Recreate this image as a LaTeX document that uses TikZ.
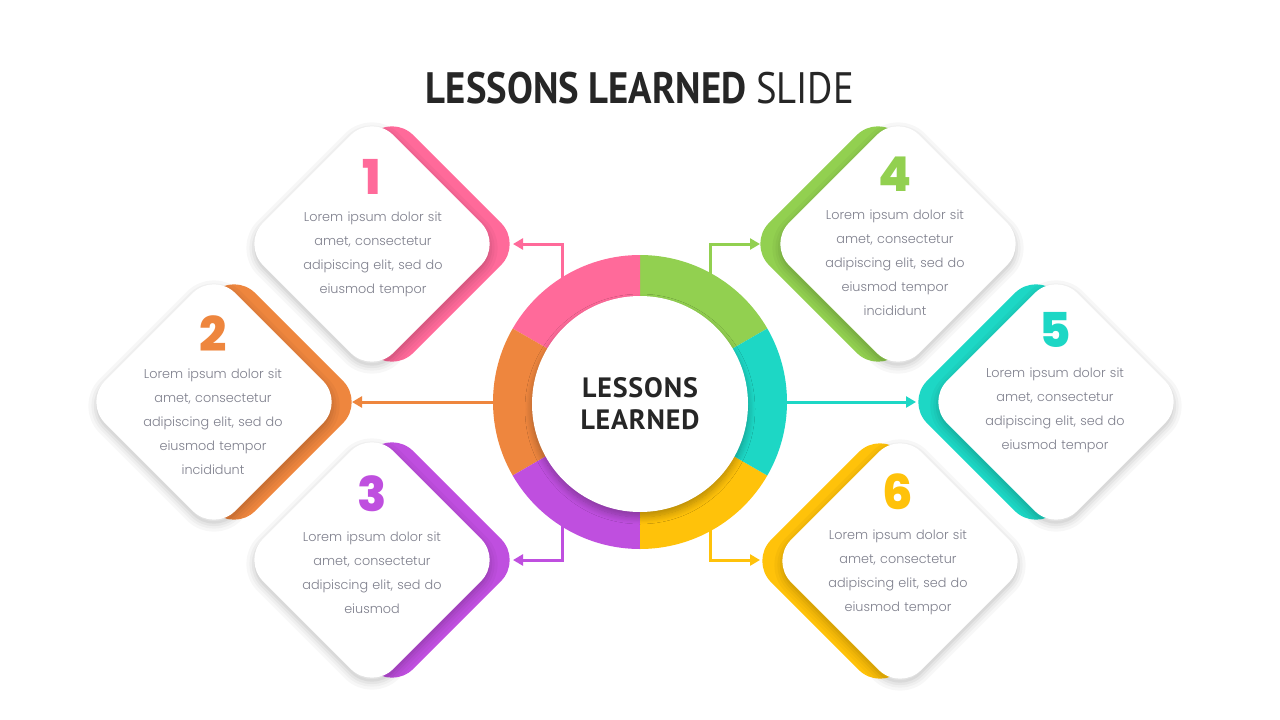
\documentclass[tikz,border=0pt]{standalone}
\usepackage{fontspec}
\IfFontExistsTF{Poppins Light}{\setmainfont{Poppins Light}}{\setmainfont{Poppins}}
\IfFontExistsTF{Poppins ExtraBold}{\newfontfamily\numfont{Poppins ExtraBold}}{\newfontfamily\numfont{Poppins}[UprightFont=*-Bold]}
\newfontfamily\headfont{PT Sans}[FakeStretch=0.88]
\newfontfamily\hubfont{PT Sans}[LetterSpace=3]
\usetikzlibrary{arrows.meta,shadows.blur}

\definecolor{lpink}{HTML}{FF6A9A}
\definecolor{lorange}{HTML}{EE863E}
\definecolor{lpurple}{HTML}{BF4FDF}
\definecolor{lgreen}{HTML}{92D050}
\definecolor{lteal}{HTML}{1DD7C5}
\definecolor{lyellow}{HTML}{FFC20A}
\definecolor{lgrey}{HTML}{7E7F8C}
\definecolor{ink}{HTML}{262626}

\tikzset{
  backcard/.style={rectangle, fill=#1, rounded corners=30pt, minimum size=184pt, inner sep=0pt, rotate=45},
  card/.style={rectangle, fill=white, rounded corners=30pt, minimum size=184pt, inner sep=0pt, rotate=45,
    preaction={draw=black, draw opacity=0.03, line width=16pt, transform canvas={yshift=-4pt}},
    preaction={draw=black, draw opacity=0.03, line width=10pt, transform canvas={yshift=-4pt}},
    preaction={draw=black, draw opacity=0.04, line width=5pt, transform canvas={yshift=-4pt}},
    preaction={fill=black, fill opacity=0.05, transform canvas={yshift=-4pt}}},
  num/.style={font=\numfont\fontsize{48}{48}\selectfont, text=#1},
  body/.style={font=\fontsize{12.8}{24}\selectfont, text=lgrey, align=center, text width=180pt},
  link/.style={line width=3pt, -{Triangle[length=10pt,width=11pt]}},
}

\begin{document}
\begin{tikzpicture}[x=1pt, y=-1pt]
  \useasboundingbox (0,0) rectangle (1280,720);
  \fill[white] (0,0) rectangle (1280,720);

  \node[font=\headfont\fontsize{44}{44}\selectfont, text=ink] (title) at (640,88) {\bfseries LESSONS LEARNED \mdseries SLIDE};

  % coloured backs
  \node[backcard=lpink] (b1) at (392,244) {};
  \node[backcard=lorange] (b2) at (234,402) {};
  \node[backcard=lpurple] (b3) at (392,560) {};
  \node[backcard=lgreen] (b4) at (878,244) {};
  \node[backcard=lteal] (b5) at (1036,402) {};
  \node[backcard=lyellow] (b6) at (880,561) {};

  % white cards
  \node[card] (c1) at (372,244) {};
  \node[card] (c2) at (214,402) {};
  \node[card] (c3) at (372,560) {};
  \node[card] (c4) at (898,244) {};
  \node[card] (c5) at (1056,402) {};
  \node[card] (c6) at (900,561) {};

  \coordinate (o) at (640,402);
  \coordinate (t1) at (513,244);
  \coordinate (t2) at (352,402);
  \coordinate (t3) at (513,560);
  \coordinate (t4) at (760,244);
  \coordinate (t5) at (916,402);
  \coordinate (t6) at (760,560);

  \draw[link, lpink] (o) ++(-78,0) |- (t1);
  \draw[link, lorange] (o) -- (t2);
  \draw[link, lpurple] (o) ++(-78,0) |- (t3);
  \draw[link, lgreen] (o) ++(70,0) |- (t4);
  \draw[link, lteal] (o) -- (t5);
  \draw[link, lyellow] (o) ++(70,0) |- (t6);

  % ring
  \begin{scope}[shift={(o)}, yscale=-1]
    \fill[lgreen] (30:147) arc[start angle=30, end angle=90, radius=147] -- (90:100) arc[start angle=90, end angle=30, radius=100] -- cycle;
    \fill[lpink] (90:147) arc[start angle=90, end angle=150, radius=147] -- (150:100) arc[start angle=150, end angle=90, radius=100] -- cycle;
    \fill[lorange] (150:147) arc[start angle=150, end angle=210, radius=147] -- (210:100) arc[start angle=210, end angle=150, radius=100] -- cycle;
    \fill[lpurple] (210:147) arc[start angle=210, end angle=270, radius=147] -- (270:100) arc[start angle=270, end angle=210, radius=100] -- cycle;
    \fill[lyellow] (270:147) arc[start angle=270, end angle=330, radius=147] -- (330:100) arc[start angle=330, end angle=270, radius=100] -- cycle;
    \fill[lteal] (330:147) arc[start angle=330, end angle=390, radius=147] -- (30:100) arc[start angle=30, end angle=-30, radius=100] -- cycle;
  \end{scope}

  \node[circle, fill=white, minimum size=216pt, inner sep=0pt, align=center, text=ink,
    font=\hubfont\bfseries\fontsize{28}{32}\selectfont,
    blur shadow={shadow xshift=0pt, shadow yshift=-5pt, shadow blur radius=7pt, shadow blur steps=12, shadow opacity=30}] (hub) at (640,404) {LESSONS\\LEARNED};

  % texts
  \node[num=lpink] (n1) at (372,177) {1};
  \node[body] (p1) at (373,254) {Lorem ipsum dolor sit\\amet, consectetur\\adipiscing elit, sed do\\eiusmod tempor};
  \node[num=lorange] (n2) at (213,334) {2};
  \node[body] (p2) at (213,422) {Lorem ipsum dolor sit\\amet, consectetur\\adipiscing elit, sed do\\eiusmod tempor\\incididunt};
  \node[num=lpurple] (n3) at (372,494) {3};
  \node[body] (p3) at (372,573) {Lorem ipsum dolor sit\\amet, consectetur\\adipiscing elit, sed do\\eiusmod};
  \node[num=lgreen] (n4) at (895,174) {4};
  \node[body] (p4) at (895,263) {Lorem ipsum dolor sit\\amet, consectetur\\adipiscing elit, sed do\\eiusmod tempor\\incididunt};
  \node[num=lteal] (n5) at (1055,330) {5};
  \node[body] (p5) at (1055,410) {Lorem ipsum dolor sit\\amet, consectetur\\adipiscing elit, sed do\\eiusmod tempor};
  \node[num=lyellow] (n6) at (898,492) {6};
  \node[body] (p6) at (898,572) {Lorem ipsum dolor sit\\amet, consectetur\\adipiscing elit, sed do\\eiusmod tempor};
\end{tikzpicture}
\end{document}
